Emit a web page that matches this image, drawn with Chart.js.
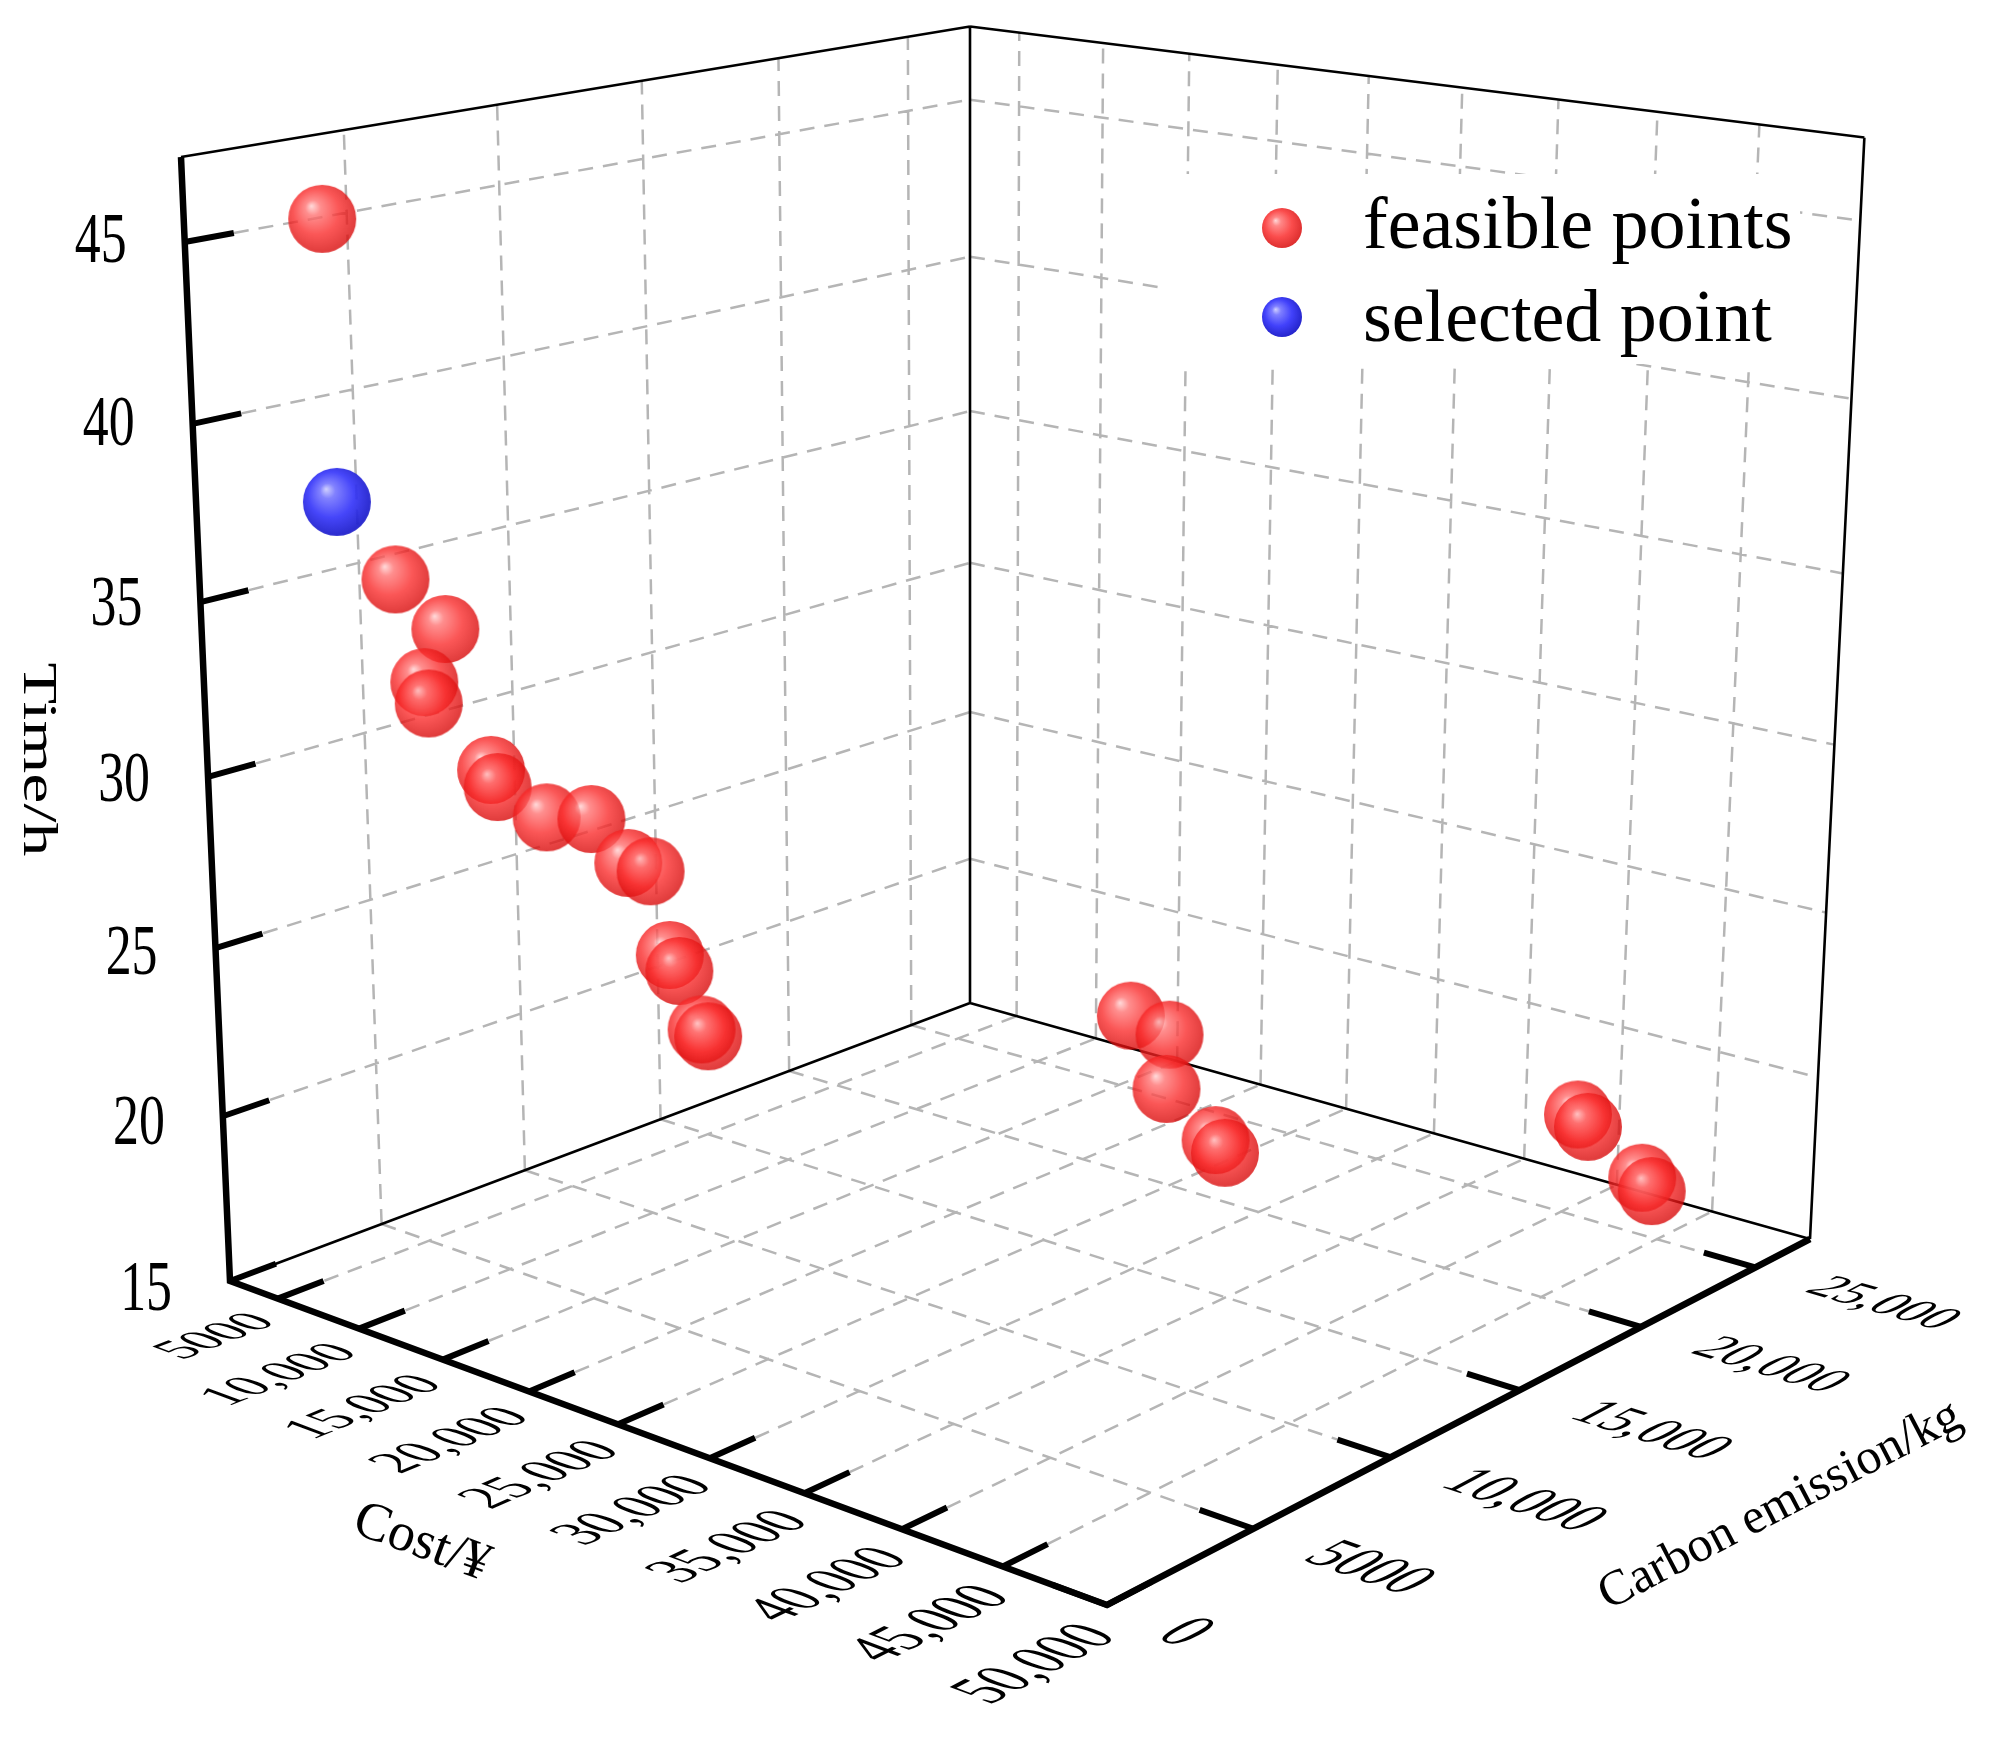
<!DOCTYPE html>
<html>
<head>
<meta charset="utf-8">
<script src="https://cdn.jsdelivr.net/npm/chart.js@4.4.1/dist/chart.umd.min.js"></script>
<style>
  html, body { margin: 0; padding: 0; background: #fff; }
</style>
</head>
<body>
<canvas id="chart" width="2000" height="1741"></canvas>
<script>
// axis ranges and ticks
const costRange = [2000, 50000];
const carbonRange = [0, 27500];
const timeRange = [15, 47.3];
const costTicks = [5000, 10000, 15000, 20000, 25000, 30000, 35000, 40000, 45000, 50000];
const costTickLabels = ["5000", "10,000", "15,000", "20,000", "25,000", "30,000", "35,000", "40,000", "45,000", "50,000"];
const carbonTicks = [0, 5000, 10000, 15000, 20000, 25000];
const carbonTickLabels = ["0", "5000", "10,000", "15,000", "20,000", "25,000"];
const timeTicks = [15, 20, 25, 30, 35, 40, 45];
const timeTickLabels = ["15", "20", "25", "30", "35", "40", "45"];

// feasible solutions: cost (¥), carbon emission (kg), time (h)
const feasibleCost   = [6000, 10000, 11000, 11500, 12000, 13000, 13500, 14500, 15000, 16000, 16500, 17500, 18000, 19000, 19500,
                        21300, 22900, 24700, 27900, 28700, 39200, 39750, 42500, 43300];
const feasibleCarbon = [2160, 1950, 2930, 1950, 1800, 3170, 3090, 4090, 5270, 5890, 6340, 6350, 6370, 6500, 6420,
                        21000, 21450, 20050, 19750, 19550, 26300, 26300, 26450, 26200];
const feasibleTime   = [45.6, 36.1, 34.6, 33.4, 32.9, 30.8, 30.4, 29.4, 29.1, 27.8, 27.5, 25.2, 24.8, 23.2, 23.1,
                        19.5, 19.0, 18.0, 17.0, 16.8, 17.5, 17.2, 16.0, 15.8];

// the chosen solution
const selectedCost   = [9000];
const selectedCarbon = [750];
const selectedTime   = [38.4];

// where the box corners land on the page (chart units)
const view = {
    L: [230, 1281], F: [1107, 1605], R: [1810, 1239], B: [970, 1003],
    Ltop: [181, 157], Btop: [970, 31]
};

const SERIF = '"Liberation Serif", "Times New Roman", serif';

// perspective map from the unit box (u = cost, v = carbon, w = time) to chart units
function buildProjection(c) {
    const [x0, y0] = c.L, [x1, y1] = c.F, [x2, y2] = c.R, [x3, y3] = c.B;
    const dx1 = x1 - x2, dx2 = x3 - x2, dx3 = x0 - x1 + x2 - x3;
    const dy1 = y1 - y2, dy2 = y3 - y2, dy3 = y0 - y1 + y2 - y3;
    const det = dx1 * dy2 - dx2 * dy1;
    const g = (dx3 * dy2 - dx2 * dy3) / det;
    const h = (dx1 * dy3 - dx3 * dy1) / det;
    const a = x1 - x0 + g * x1, b = x3 - x0 + h * x3;
    const d = y1 - y0 + g * y1, e = y3 - y0 + h * y3;
    const [tx, ty] = c.Ltop, [bx] = c.Btop;
    const r = (tx - bx * (1 + h) + b) / (bx - tx);
    const p = tx * (1 + r) - x0;
    const q = ty * (1 + r) - y0;
    return (u, v, w) => {
        const den = g * u + h * v + r * w + 1;
        return { x: (a * u + b * v + p * w + x0) / den, y: (d * u + e * v + q * w + y0) / den };
    };
}
const project = buildProjection(view);

const nCost = c => (c - costRange[0]) / (costRange[1] - costRange[0]);
const nCarbon = k => (k - carbonRange[0]) / (carbonRange[1] - carbonRange[0]);
const nTime = t => (t - timeRange[0]) / (timeRange[1] - timeRange[0]);

function toPoints(cost, carbon, time) {
    return cost.map((c, i) => project(nCost(c), nCarbon(carbon[i]), nTime(time[i])));
}

// shaded ball used as the marker
function makeBall(r, stops, alpha) {
    const cv = document.createElement("canvas");
    const s = Math.ceil(2 * r + 2);
    cv.width = s; cv.height = s;
    const g = cv.getContext("2d");
    const c = s / 2;
    const grad = g.createRadialGradient(c - 0.32 * r, c - 0.38 * r, 0, c - 0.08 * r, c - 0.1 * r, 1.12 * r);
    stops.forEach(([o, col]) => grad.addColorStop(o, col));
    g.globalAlpha = alpha;
    g.fillStyle = grad;
    g.beginPath();
    g.arc(c, c, r, 0, Math.PI * 2);
    g.fill();
    return cv;
}
const redStops = [[0, "rgb(255,210,210)"], [0.2, "rgb(255,115,115)"], [0.6, "rgb(250,45,45)"], [1, "rgb(215,10,10)"]];
const blueStops = [[0, "rgb(205,205,255)"], [0.2, "rgb(120,120,255)"], [0.6, "rgb(55,55,250)"], [1, "rgb(25,25,200)"]];
const redBall = makeBall(34, redStops, 0.8);
const blueBall = makeBall(34, blueStops, 0.92);
const redBallSmall = makeBall(20, redStops, 0.85);
const blueBallSmall = makeBall(20, blueStops, 0.95);

// ➤ box, grid, ticks and labels
const box3d = {
    id: "box3d",
    beforeDatasetsDraw(chart) {
        const ctx = chart.ctx;
        const sx = chart.scales.x, sy = chart.scales.y;
        const P = (u, v, w) => {
            const p = project(u, v, w);
            return { x: sx.getPixelForValue(p.x), y: sy.getPixelForValue(p.y) };
        };
        const seg = (a, b) => {
            const p = P(...a), q = P(...b);
            ctx.moveTo(p.x, p.y);
            ctx.lineTo(q.x, q.y);
        };

        ctx.save();

        // dashed grid on floor and two walls
        ctx.strokeStyle = "#b5b5b5";
        ctx.lineWidth = 2.5;
        ctx.setLineDash([15, 10]);
        ctx.beginPath();
        costTicks.map(nCost).filter(u => u < 0.999).forEach(u => {
            seg([u, 0, 0], [u, 1, 0]);
            seg([u, 1, 0], [u, 1, 1]);
        });
        carbonTicks.map(nCarbon).filter(v => v > 0.001).forEach(v => {
            seg([0, v, 0], [1, v, 0]);
            seg([0, v, 0], [0, v, 1]);
        });
        timeTicks.map(nTime).filter(w => w > 0.001).forEach(w => {
            seg([0, 0, w], [0, 1, w]);
            seg([0, 1, w], [1, 1, w]);
        });
        ctx.stroke();
        ctx.setLineDash([]);

        // thin frame edges
        ctx.strokeStyle = "#000";
        ctx.lineWidth = 2.6;
        ctx.beginPath();
        seg([0, 0, 0], [0, 1, 0]);
        seg([0, 1, 0], [1, 1, 0]);
        seg([0, 1, 0], [0, 1, 1]);
        seg([1, 1, 0], [1, 1, 1]);
        seg([0, 0, 1], [0, 1, 1]);
        seg([0, 1, 1], [1, 1, 1]);
        ctx.stroke();

        // heavy axis lines
        ctx.lineWidth = 6.5;
        ctx.lineJoin = "miter";
        ctx.beginPath();
        const c0 = P(0, 0, 1), c1 = P(0, 0, 0), c2 = P(1, 0, 0), c3 = P(1, 1, 0);
        ctx.moveTo(c0.x, c0.y);
        ctx.lineTo(c1.x, c1.y);
        ctx.lineTo(c2.x, c2.y);
        ctx.lineTo(c3.x, c3.y);
        ctx.stroke();

        // tick marks
        const tl = 0.054;
        ctx.lineWidth = 6;
        ctx.beginPath();
        timeTicks.map(nTime).forEach(w => seg([0, 0, w], [0, tl, w]));
        costTicks.map(nCost).forEach(u => seg([u, 0, 0], [u, tl, 0]));
        carbonTicks.map(nCarbon).forEach(v => seg([1, v, 0], [1 - tl, v, 0]));
        ctx.stroke();

        // tick labels lying flat in the floor plane
        ctx.fillStyle = "#000";
        const planeText = (text, at, base, down, size, upScale, align) => {
            const e = 0.01;
            const o = P(...at);
            const b = P(at[0] + base[0] * e, at[1] + base[1] * e, at[2] + base[2] * e);
            const d = P(at[0] + down[0] * e, at[1] + down[1] * e, at[2] + down[2] * e);
            const k = size / e / 100;
            ctx.save();
            ctx.translate(o.x, o.y);
            ctx.transform((b.x - o.x) * k, (b.y - o.y) * k, (d.x - o.x) * k * upScale, (d.y - o.y) * k * upScale, 0, 0);
            ctx.font = "100px " + SERIF;
            ctx.textAlign = align;
            ctx.textBaseline = "middle";
            ctx.fillText(text, 0, 0);
            ctx.restore();
        };
        costTicks.forEach((c, i) => {
            planeText(costTickLabels[i], [nCost(c) + 0.025, -0.037, 0], [0, 1, 0], [1, 0, 0], 0.056, 1.15, "right");
        });
        carbonTicks.forEach((k, i) => {
            planeText(carbonTickLabels[i], [1.062, nCarbon(k), 0], [1, 0, 0], [0, -1, 0], 0.05, 1.55, "left");
        });

        // axis titles, rotated along their axis
        const rotText = (text, at, from, to, size) => {
            const o = P(...at), a = P(...from), b = P(...to);
            ctx.save();
            ctx.translate(o.x, o.y);
            ctx.rotate(Math.atan2(b.y - a.y, b.x - a.x));
            ctx.font = size + "px " + SERIF;
            ctx.textAlign = "center";
            ctx.textBaseline = "middle";
            ctx.fillText(text, 0, 0);
            ctx.restore();
        };
        rotText("Cost/¥", [0.525, -0.265, 0], [0, 0, 0], [1, 0, 0], 54);
        rotText("Carbon emission/kg", [1.29, 0.49, 0], [1, 0, 0], [1, 1, 0], 50);

        // time labels, upright but narrowed like the left wall
        ctx.font = "72px " + SERIF;
        ctx.textAlign = "right";
        ctx.textBaseline = "middle";
        timeTicks.forEach((t, i) => {
            const w = nTime(t);
            const p = P(0, 0, w);
            ctx.save();
            ctx.translate(p.x - 58, p.y + 10 * (1 - w));
            ctx.scale(0.72, 1);
            ctx.fillText(timeTickLabels[i], 0, 0);
            ctx.restore();
        });
        const tp = P(0, 0, 0.48);
        ctx.save();
        ctx.translate(tp.x - 170, tp.y);
        ctx.transform(0, 1, -0.72, 0, 0, 0);
        ctx.font = "68px " + SERIF;
        ctx.textAlign = "center";
        ctx.fillText("Time/h", 0, 0);
        ctx.restore();

        ctx.restore();
    },
    afterDatasetsDraw(chart) {
        const ctx = chart.ctx;
        ctx.save();
        ctx.fillStyle = "#fff";
        ctx.fillRect(1160, 174, 640, 190);
        ctx.drawImage(redBallSmall, 1282 - redBallSmall.width / 2, 228 - redBallSmall.height / 2);
        ctx.drawImage(blueBallSmall, 1282 - blueBallSmall.width / 2, 317 - blueBallSmall.height / 2);
        ctx.fillStyle = "#000";
        ctx.font = "74px " + SERIF;
        ctx.textAlign = "left";
        ctx.textBaseline = "alphabetic";
        ctx.fillText(chart.data.datasets[0].label, 1363, 248);
        ctx.fillText(chart.data.datasets[1].label, 1363, 341);
        ctx.restore();
    }
};

new Chart(document.getElementById("chart"), {
    type: "scatter",
    data: {
        datasets: [
            {
                label: "feasible points",
                data: toPoints(feasibleCost, feasibleCarbon, feasibleTime),
                pointStyle: redBall,
                pointRadius: 34,
                pointHoverRadius: 34
            },
            {
                label: "selected point",
                data: toPoints(selectedCost, selectedCarbon, selectedTime),
                pointStyle: blueBall,
                pointRadius: 34,
                pointHoverRadius: 34
            }
        ]
    },
    options: {
        responsive: false,
        animation: false,
        devicePixelRatio: 1,
        events: [],
        layout: { padding: 0, autoPadding: false },
        scales: {
            x: { type: "linear", display: false, min: 0, max: 2000 },
            y: { type: "linear", display: false, min: 0, max: 1741, reverse: true }
        },
        plugins: {
            legend: { display: false },
            tooltip: { enabled: false }
        }
    },
    plugins: [box3d]
});
</script>
</body>
</html>
